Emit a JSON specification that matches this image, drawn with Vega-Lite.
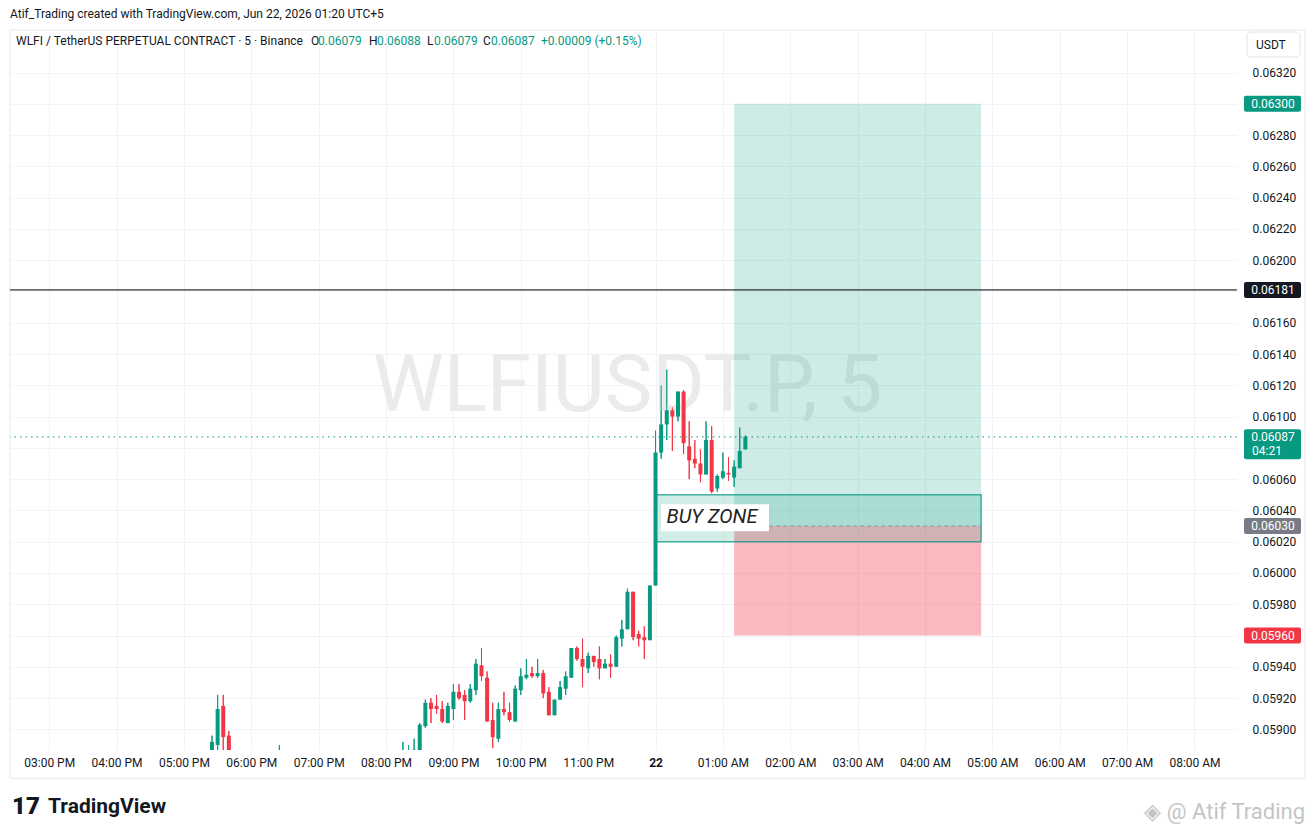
{
  "$schema": "https://vega.github.io/schema/vega-lite/v6.json",
  "width": 1227,
  "height": 720,
  "autosize": {"type": "none"},
  "padding": {"left": 10, "top": 30, "right": 78, "bottom": 88},
  "background": "#ffffff",
  "config": {"view": {"stroke": null}, "text": {"font": "Roboto"}, "axis": {"labelOverlap": false}, "axisY": {"labelOverlap": false, "labelSeparation": 0}},
  "data": {"values": [{}]},
  "datasets": {
    "candles": [
      {"t":"2026-06-21T17:25:00Z","o":0.05883,"h":0.05896,"l":0.05880,"c":0.05892},
      {"t":"2026-06-21T17:30:00Z","o":0.05890,"h":0.05922,"l":0.05885,"c":0.05913},
      {"t":"2026-06-21T17:35:00Z","o":0.05915,"h":0.05922,"l":0.05885,"c":0.05895},
      {"t":"2026-06-21T17:40:00Z","o":0.05896,"h":0.05899,"l":0.05877,"c":0.05880},
      {"t":"2026-06-21T18:25:00Z","o":0.05877,"h":0.05890,"l":0.05874,"c":0.05885},
      {"t":"2026-06-21T20:15:00Z","o":0.05880,"h":0.05892,"l":0.05877,"c":0.05885},
      {"t":"2026-06-21T20:20:00Z","o":0.05882,"h":0.05890,"l":0.05878,"c":0.05886},
      {"t":"2026-06-21T20:25:00Z","o":0.05881,"h":0.05894,"l":0.05878,"c":0.05887},
      {"t":"2026-06-21T20:30:00Z","o":0.05884,"h":0.05904,"l":0.05882,"c":0.05903},
      {"t":"2026-06-21T20:35:00Z","o":0.05902,"h":0.05919,"l":0.05901,"c":0.05917},
      {"t":"2026-06-21T20:40:00Z","o":0.05917,"h":0.05920,"l":0.05904,"c":0.05913},
      {"t":"2026-06-21T20:45:00Z","o":0.05915,"h":0.05922,"l":0.05910,"c":0.05913},
      {"t":"2026-06-21T20:50:00Z","o":0.05913,"h":0.05918,"l":0.05904,"c":0.05905},
      {"t":"2026-06-21T20:55:00Z","o":0.05904,"h":0.05917,"l":0.05904,"c":0.05915},
      {"t":"2026-06-21T21:00:00Z","o":0.05913,"h":0.05929,"l":0.05906,"c":0.05924},
      {"t":"2026-06-21T21:05:00Z","o":0.05924,"h":0.05929,"l":0.05919,"c":0.05920},
      {"t":"2026-06-21T21:10:00Z","o":0.05922,"h":0.05925,"l":0.05906,"c":0.05918},
      {"t":"2026-06-21T21:15:00Z","o":0.05918,"h":0.05929,"l":0.05917,"c":0.05926},
      {"t":"2026-06-21T21:20:00Z","o":0.05925,"h":0.05945,"l":0.05922,"c":0.05942},
      {"t":"2026-06-21T21:25:00Z","o":0.05941,"h":0.05952,"l":0.05931,"c":0.05934},
      {"t":"2026-06-21T21:30:00Z","o":0.05933,"h":0.05937,"l":0.05905,"c":0.05905},
      {"t":"2026-06-21T21:35:00Z","o":0.05906,"h":0.05917,"l":0.05888,"c":0.05895},
      {"t":"2026-06-21T21:40:00Z","o":0.05894,"h":0.05917,"l":0.05892,"c":0.05913},
      {"t":"2026-06-21T21:45:00Z","o":0.05913,"h":0.05924,"l":0.05909,"c":0.05911},
      {"t":"2026-06-21T21:50:00Z","o":0.05911,"h":0.05917,"l":0.05905,"c":0.05906},
      {"t":"2026-06-21T21:55:00Z","o":0.05905,"h":0.05928,"l":0.05905,"c":0.05926},
      {"t":"2026-06-21T22:00:00Z","o":0.05925,"h":0.05939,"l":0.05922,"c":0.05934},
      {"t":"2026-06-21T22:05:00Z","o":0.05933,"h":0.05945,"l":0.05932,"c":0.05935},
      {"t":"2026-06-21T22:10:00Z","o":0.05936,"h":0.05940,"l":0.05933,"c":0.05934},
      {"t":"2026-06-21T22:15:00Z","o":0.05934,"h":0.05945,"l":0.05933,"c":0.05936},
      {"t":"2026-06-21T22:20:00Z","o":0.05936,"h":0.05938,"l":0.05920,"c":0.05923},
      {"t":"2026-06-21T22:25:00Z","o":0.05924,"h":0.05927,"l":0.05909,"c":0.05909},
      {"t":"2026-06-21T22:30:00Z","o":0.05909,"h":0.05919,"l":0.05909,"c":0.05919},
      {"t":"2026-06-21T22:35:00Z","o":0.05919,"h":0.05931,"l":0.05919,"c":0.05927},
      {"t":"2026-06-21T22:40:00Z","o":0.05926,"h":0.05937,"l":0.05922,"c":0.05934},
      {"t":"2026-06-21T22:45:00Z","o":0.05933,"h":0.05952,"l":0.05933,"c":0.05952},
      {"t":"2026-06-21T22:50:00Z","o":0.05952,"h":0.05953,"l":0.05944,"c":0.05945},
      {"t":"2026-06-21T22:55:00Z","o":0.05945,"h":0.05958,"l":0.05927,"c":0.05940},
      {"t":"2026-06-21T23:00:00Z","o":0.05939,"h":0.05949,"l":0.05936,"c":0.05947},
      {"t":"2026-06-21T23:05:00Z","o":0.05947,"h":0.05947,"l":0.05940,"c":0.05943},
      {"t":"2026-06-21T23:10:00Z","o":0.05945,"h":0.05953,"l":0.05932,"c":0.05939},
      {"t":"2026-06-21T23:15:00Z","o":0.05939,"h":0.05945,"l":0.05939,"c":0.05942},
      {"t":"2026-06-21T23:20:00Z","o":0.05942,"h":0.05948,"l":0.05933,"c":0.05940},
      {"t":"2026-06-21T23:25:00Z","o":0.05940,"h":0.05960,"l":0.05940,"c":0.05959},
      {"t":"2026-06-21T23:30:00Z","o":0.05958,"h":0.05970,"l":0.05953,"c":0.05964},
      {"t":"2026-06-21T23:35:00Z","o":0.05964,"h":0.05990,"l":0.05964,"c":0.05988},
      {"t":"2026-06-21T23:40:00Z","o":0.05988,"h":0.05988,"l":0.05957,"c":0.05959},
      {"t":"2026-06-21T23:45:00Z","o":0.05961,"h":0.05963,"l":0.05953,"c":0.05958},
      {"t":"2026-06-21T23:50:00Z","o":0.05959,"h":0.05966,"l":0.05945,"c":0.05957},
      {"t":"2026-06-21T23:55:00Z","o":0.05957,"h":0.05992,"l":0.05957,"c":0.05992},
      {"t":"2026-06-22T00:00:00Z","o":0.05992,"h":0.06091,"l":0.05992,"c":0.06077},
      {"t":"2026-06-22T00:05:00Z","o":0.06077,"h":0.06120,"l":0.06073,"c":0.06095},
      {"t":"2026-06-22T00:10:00Z","o":0.06095,"h":0.06130,"l":0.06085,"c":0.06104},
      {"t":"2026-06-22T00:15:00Z","o":0.06104,"h":0.06106,"l":0.06078,"c":0.06100},
      {"t":"2026-06-22T00:20:00Z","o":0.06100,"h":0.06116,"l":0.06097,"c":0.06116},
      {"t":"2026-06-22T00:25:00Z","o":0.06116,"h":0.06117,"l":0.06076,"c":0.06083},
      {"t":"2026-06-22T00:30:00Z","o":0.06081,"h":0.06097,"l":0.06060,"c":0.06072},
      {"t":"2026-06-22T00:35:00Z","o":0.06073,"h":0.06085,"l":0.06067,"c":0.06070},
      {"t":"2026-06-22T00:40:00Z","o":0.06070,"h":0.06079,"l":0.06058,"c":0.06063},
      {"t":"2026-06-22T00:45:00Z","o":0.06063,"h":0.06097,"l":0.06063,"c":0.06085},
      {"t":"2026-06-22T00:50:00Z","o":0.06085,"h":0.06094,"l":0.06051,"c":0.06052},
      {"t":"2026-06-22T00:55:00Z","o":0.06054,"h":0.06063,"l":0.06052,"c":0.06062},
      {"t":"2026-06-22T01:00:00Z","o":0.06061,"h":0.06077,"l":0.06060,"c":0.06065},
      {"t":"2026-06-22T01:05:00Z","o":0.06064,"h":0.06074,"l":0.06059,"c":0.06063},
      {"t":"2026-06-22T01:10:00Z","o":0.06061,"h":0.06072,"l":0.06055,"c":0.06068},
      {"t":"2026-06-22T01:15:00Z","o":0.06067,"h":0.06093,"l":0.06067,"c":0.06078},
      {"t":"2026-06-22T01:20:00Z","o":0.06079,"h":0.06088,"l":0.06079,"c":0.06087}
    ],
    "pricelabels": [
      {"p": 0.06300, "label": "0.06300", "kind": "target"},
      {"p": 0.06181, "label": "0.06181", "kind": "level"},
      {"p": 0.06030, "label": "0.06030", "kind": "entry"},
      {"p": 0.05960, "label": "0.05960", "kind": "stop"}
    ]
  },
  "layer": [
    {
      "data": {"name": "candles"},
      "mark": {"type": "rule", "clip": true, "strokeWidth": 1},
      "encoding": {
        "x": {"field": "t", "type": "temporal", "title": null,
          "scale": {"type": "utc", "padding": 0, "domain": [{"year":2026,"month":6,"date":21,"hours":14,"minutes":25,"seconds":5,"utc":true}, {"year":2026,"month":6,"date":22,"hours":8,"minutes":37,"seconds":52,"utc":true}]},
          "axis": {"orient": "bottom", "title": null, "grid": true, "gridColor": "#f0f3fa", "gridWidth": 1, "domain": false, "ticks": false, "tickSize": 0, "labelPadding": 7, "labelFontSize": 12, "labelFont": "Roboto", "labelColor": "#131722", "labelBaseline": "top", "labelFlush": false, "labelOverlap": false,
            "labelExpr": "utchours(datum.value) == 0 ? utcFormat(datum.value, '%d') : utcFormat(datum.value, '%I:%M %p')",
            "labelFontWeight": {"condition": {"test": "utchours(datum.value) == 0", "value": "bold"}, "value": "normal"},
            "values": [
              {"year":2026,"month":6,"date":21,"hours":15,"utc":true},
              {"year":2026,"month":6,"date":21,"hours":16,"utc":true},
              {"year":2026,"month":6,"date":21,"hours":17,"utc":true},
              {"year":2026,"month":6,"date":21,"hours":18,"utc":true},
              {"year":2026,"month":6,"date":21,"hours":19,"utc":true},
              {"year":2026,"month":6,"date":21,"hours":20,"utc":true},
              {"year":2026,"month":6,"date":21,"hours":21,"utc":true},
              {"year":2026,"month":6,"date":21,"hours":22,"utc":true},
              {"year":2026,"month":6,"date":21,"hours":23,"utc":true},
              {"year":2026,"month":6,"date":22,"hours":0,"utc":true},
              {"year":2026,"month":6,"date":22,"hours":1,"utc":true},
              {"year":2026,"month":6,"date":22,"hours":2,"utc":true},
              {"year":2026,"month":6,"date":22,"hours":3,"utc":true},
              {"year":2026,"month":6,"date":22,"hours":4,"utc":true},
              {"year":2026,"month":6,"date":22,"hours":5,"utc":true},
              {"year":2026,"month":6,"date":22,"hours":6,"utc":true},
              {"year":2026,"month":6,"date":22,"hours":7,"utc":true},
              {"year":2026,"month":6,"date":22,"hours":8,"utc":true}
            ]}},
        "y": {"field": "l", "type": "quantitative", "title": null,
          "scale": {"domain": [0.058868, 0.063472], "zero": false, "nice": false, "padding": 0},
          "axis": {"orient": "right", "title": null, "grid": true, "gridColor": "#f0f3fa", "gridWidth": 1, "domain": false, "ticks": false, "tickSize": 0, "labelPadding": 15, "labelFontSize": 12, "labelFont": "Roboto", "labelColor": "#131722", "labelFlush": false, "labelOverlap": false, "labelSeparation": 0, "tickCount": 24,
            "labelExpr": "(abs(datum.value - 0.0608) < 0.000001 || abs(datum.value - 0.0618) < 0.000001 || abs(datum.value - 0.0630) < 0.000001 || abs(datum.value - 0.0596) < 0.000001) ? '' : format(datum.value, '.5f')",
            "values": [0.0590, 0.0592, 0.0594, 0.0596, 0.0598, 0.0600, 0.0602, 0.0604, 0.0606, 0.0608, 0.0610, 0.0612, 0.0614, 0.0616, 0.0618, 0.0620, 0.0622, 0.0624, 0.0626, 0.0628, 0.0630, 0.0632]}},
        "y2": {"field": "h"},
        "color": {"condition": {"test": "datum.c >= datum.o", "value": "#089981"}, "value": "#f23645"}
      }
    },
    {
      "mark": {"type": "rect", "fillOpacity": 0, "stroke": "#e6e8ee", "strokeWidth": 1},
      "encoding": {
        "x": {"datum": {"year":2026,"month":6,"date":21,"hours":14,"minutes":25,"seconds":5,"utc":true}, "type": "temporal", "title": null},
        "x2": {"datum": {"year":2026,"month":6,"date":22,"hours":9,"minutes":38,"seconds":26,"utc":true}},
        "y": {"datum": 0.063472, "type": "quantitative", "title": null},
        "y2": {"datum": 0.0586872}
      }
    },
    {
      "mark": {"type": "text", "text": "Atif_Trading created with TradingView.com, Jun 22, 2026 01:20 UTC+5", "fontSize": 12, "color": "#131722", "align": "left", "baseline": "middle"},
      "encoding": {
        "x": {"datum": {"year":2026,"month":6,"date":21,"hours":14,"minutes":25,"seconds":5,"utc":true}, "type": "temporal", "title": null},
        "y": {"datum": 0.0635742, "type": "quantitative", "title": null}
      }
    },
    {
      "mark": {"type": "text", "text": "WLFIUSDT.P, 5", "fontSize": 80, "color": "#ebebeb", "align": "center", "baseline": "middle", "font": "Roboto"},
      "encoding": {
        "x": {"datum": {"year":2026,"month":6,"date":21,"hours":23,"minutes":35,"seconds":2,"utc":true}, "type": "temporal", "title": null},
        "y": {"datum": 0.0611883, "type": "quantitative", "title": null}
      }
    },
    {
      "mark": {"type": "text", "text": "WLFI / TetherUS PERPETUAL CONTRACT · 5 · Binance", "fontSize": 12, "color": "#131722", "align": "left", "baseline": "middle"},
      "encoding": {
        "x": {"datum": {"year":2026,"month":6,"date":21,"hours":14,"minutes":30,"seconds":26,"utc":true}, "type": "temporal", "title": null},
        "y": {"datum": 0.0634015, "type": "quantitative", "title": null}
      }
    },
    {
      "mark": {"type": "text", "text": "O", "fontSize": 12, "color": "#131722", "align": "left", "baseline": "middle"},
      "encoding": {
        "x": {"datum": {"year":2026,"month":6,"date":21,"hours":18,"minutes":53,"seconds":10,"utc":true}, "type": "temporal", "title": null},
        "y": {"datum": 0.0634015, "type": "quantitative", "title": null}
      }
    },
    {
      "mark": {"type": "text", "text": "0.06079", "fontSize": 12, "color": "#089981", "align": "left", "baseline": "middle"},
      "encoding": {
        "x": {"datum": {"year":2026,"month":6,"date":21,"hours":18,"minutes":59,"seconds":24,"utc":true}, "type": "temporal", "title": null},
        "y": {"datum": 0.0634015, "type": "quantitative", "title": null}
      }
    },
    {
      "mark": {"type": "text", "text": "H", "fontSize": 12, "color": "#131722", "align": "left", "baseline": "middle"},
      "encoding": {
        "x": {"datum": {"year":2026,"month":6,"date":21,"hours":19,"minutes":44,"seconds":49,"utc":true}, "type": "temporal", "title": null},
        "y": {"datum": 0.0634015, "type": "quantitative", "title": null}
      }
    },
    {
      "mark": {"type": "text", "text": "0.06088", "fontSize": 12, "color": "#089981", "align": "left", "baseline": "middle"},
      "encoding": {
        "x": {"datum": {"year":2026,"month":6,"date":21,"hours":19,"minutes":51,"seconds":56,"utc":true}, "type": "temporal", "title": null},
        "y": {"datum": 0.0634015, "type": "quantitative", "title": null}
      }
    },
    {
      "mark": {"type": "text", "text": "L", "fontSize": 12, "color": "#131722", "align": "left", "baseline": "middle"},
      "encoding": {
        "x": {"datum": {"year":2026,"month":6,"date":21,"hours":20,"minutes":36,"seconds":28,"utc":true}, "type": "temporal", "title": null},
        "y": {"datum": 0.0634015, "type": "quantitative", "title": null}
      }
    },
    {
      "mark": {"type": "text", "text": "0.06079", "fontSize": 12, "color": "#089981", "align": "left", "baseline": "middle"},
      "encoding": {
        "x": {"datum": {"year":2026,"month":6,"date":21,"hours":20,"minutes":42,"seconds":42,"utc":true}, "type": "temporal", "title": null},
        "y": {"datum": 0.0634015, "type": "quantitative", "title": null}
      }
    },
    {
      "mark": {"type": "text", "text": "C", "fontSize": 12, "color": "#131722", "align": "left", "baseline": "middle"},
      "encoding": {
        "x": {"datum": {"year":2026,"month":6,"date":21,"hours":21,"minutes":26,"seconds":21,"utc":true}, "type": "temporal", "title": null},
        "y": {"datum": 0.0634015, "type": "quantitative", "title": null}
      }
    },
    {
      "mark": {"type": "text", "text": "0.06087", "fontSize": 12, "color": "#089981", "align": "left", "baseline": "middle"},
      "encoding": {
        "x": {"datum": {"year":2026,"month":6,"date":21,"hours":21,"minutes":33,"seconds":28,"utc":true}, "type": "temporal", "title": null},
        "y": {"datum": 0.0634015, "type": "quantitative", "title": null}
      }
    },
    {
      "mark": {"type": "text", "text": "+0.00009 (+0.15%)", "fontSize": 12, "color": "#089981", "align": "left", "baseline": "middle"},
      "encoding": {
        "x": {"datum": {"year":2026,"month":6,"date":21,"hours":22,"minutes":18,"seconds":0,"utc":true}, "type": "temporal", "title": null},
        "y": {"datum": 0.0634015, "type": "quantitative", "title": null}
      }
    },
    {
      "mark": {"type": "rect", "color": "#f23645", "opacity": 0.35},
      "encoding": {
        "x": {"datum": {"year":2026,"month":6,"date":22,"hours":1,"minutes":10,"utc":true}, "type": "temporal", "title": null},
        "x2": {"datum": {"year":2026,"month":6,"date":22,"hours":4,"minutes":50,"utc":true}},
        "y": {"datum": 0.0596, "type": "quantitative", "title": null},
        "y2": {"datum": 0.0603}
      }
    },
    {
      "mark": {"type": "rect", "color": "#089981", "opacity": 0.2},
      "encoding": {
        "x": {"datum": {"year":2026,"month":6,"date":22,"hours":1,"minutes":10,"utc":true}, "type": "temporal", "title": null},
        "x2": {"datum": {"year":2026,"month":6,"date":22,"hours":4,"minutes":50,"utc":true}},
        "y": {"datum": 0.0603, "type": "quantitative", "title": null},
        "y2": {"datum": 0.0630}
      }
    },
    {
      "mark": {"type": "rect", "fill": "#089981", "fillOpacity": 0.18, "stroke": "#089981", "strokeOpacity": 0.75, "strokeWidth": 1.5},
      "encoding": {
        "x": {"datum": {"year":2026,"month":6,"date":22,"hours":0,"minutes":0,"utc":true}, "type": "temporal", "title": null},
        "x2": {"datum": {"year":2026,"month":6,"date":22,"hours":4,"minutes":50,"utc":true}},
        "y": {"datum": 0.0602, "type": "quantitative", "title": null},
        "y2": {"datum": 0.0605}
      }
    },
    {
      "mark": {"type": "rule", "color": "#787b86", "strokeDash": [4, 3], "opacity": 0.6, "strokeWidth": 1},
      "encoding": {
        "x": {"datum": {"year":2026,"month":6,"date":22,"hours":1,"minutes":10,"utc":true}, "type": "temporal", "title": null},
        "x2": {"datum": {"year":2026,"month":6,"date":22,"hours":4,"minutes":50,"utc":true}},
        "y": {"datum": 0.0603, "type": "quantitative", "title": null}
      }
    },
    {
      "mark": {"type": "rule", "color": "#000000", "strokeWidth": 1},
      "encoding": {
        "y": {"datum": 0.06181, "type": "quantitative", "title": null}
      }
    },
    {
      "mark": {"type": "rule", "color": "#089981", "strokeWidth": 1, "strokeDash": [1.5, 4]},
      "encoding": {
        "y": {"datum": 0.06087, "type": "quantitative", "title": null}
      }
    },
    {
      "data": {"name": "candles"},
      "mark": {"type": "rule", "clip": true, "strokeWidth": 1},
      "encoding": {
        "x": {"field": "t", "type": "temporal", "title": null},
        "y": {"field": "l", "type": "quantitative", "title": null},
        "y2": {"field": "h"},
        "color": {"condition": {"test": "datum.c >= datum.o", "value": "#089981"}, "value": "#f23645"}
      }
    },
    {
      "data": {"name": "candles"},
      "mark": {"type": "bar", "clip": true, "size": 4},
      "encoding": {
        "x": {"field": "t", "type": "temporal", "title": null},
        "y": {"field": "o", "type": "quantitative", "title": null},
        "y2": {"field": "c"},
        "color": {"condition": {"test": "datum.c >= datum.o", "value": "#089981"}, "value": "#f23645"}
      }
    },
    {
      "mark": {"type": "rect", "color": "#ffffff"},
      "encoding": {
        "x": {"datum": {"year":2026,"month":6,"date":22,"hours":0,"minutes":4,"seconds":53,"utc":true}, "type": "temporal", "title": null},
        "x2": {"datum": {"year":2026,"month":6,"date":22,"hours":1,"minutes":41,"seconds":3,"utc":true}},
        "y": {"datum": 0.0604399, "type": "quantitative", "title": null},
        "y2": {"datum": 0.0602671}
      }
    },
    {
      "mark": {"type": "text", "text": "BUY ZONE", "fontSize": 20, "fontStyle": "italic", "color": "#222222", "align": "center", "baseline": "middle"},
      "encoding": {
        "x": {"datum": {"year":2026,"month":6,"date":22,"hours":0,"minutes":50,"seconds":18,"utc":true}, "type": "temporal", "title": null},
        "y": {"datum": 0.0603567, "type": "quantitative", "title": null}
      }
    },
    {
      "data": {"name": "pricelabels"},
      "mark": {"type": "tick", "orient": "horizontal", "size": 57, "thickness": 16, "cornerRadius": 2, "opacity": 1},
      "encoding": {
        "x": {"datum": {"year":2026,"month":6,"date":22,"hours":9,"minutes":9,"seconds":29,"utc":true}, "type": "temporal", "title": null},
        "y": {"field": "p", "type": "quantitative", "title": null},
        "color": {"field": "kind", "type": "nominal", "legend": null, "scale": {"domain": ["target", "level", "entry", "stop"], "range": ["#089981", "#131722", "#787b86", "#f23645"]}}
      }
    },
    {
      "data": {"name": "pricelabels"},
      "mark": {"type": "text", "fontSize": 12, "color": "#ffffff", "align": "center", "baseline": "middle"},
      "encoding": {
        "x": {"datum": {"year":2026,"month":6,"date":22,"hours":9,"minutes":9,"seconds":55,"utc":true}, "type": "temporal", "title": null},
        "y": {"field": "p", "type": "quantitative", "title": null},
        "text": {"field": "label"}
      }
    },
    {
      "mark": {"type": "rect", "color": "#089981", "cornerRadius": 2},
      "encoding": {
        "x": {"datum": {"year":2026,"month":6,"date":22,"hours":8,"minutes":44,"seconds":6,"utc":true}, "type": "temporal", "title": null},
        "x2": {"datum": {"year":2026,"month":6,"date":22,"hours":9,"minutes":34,"seconds":52,"utc":true}},
        "y": {"datum": 0.0609196, "type": "quantitative", "title": null},
        "y2": {"datum": 0.0607277}
      }
    },
    {
      "mark": {"type": "text", "text": "0.06087", "fontSize": 12, "color": "#ffffff", "align": "center", "baseline": "middle"},
      "encoding": {
        "x": {"datum": {"year":2026,"month":6,"date":22,"hours":9,"minutes":9,"seconds":55,"utc":true}, "type": "temporal", "title": null},
        "y": {"datum": 0.0608684, "type": "quantitative", "title": null}
      }
    },
    {
      "mark": {"type": "text", "text": "04:21", "fontSize": 12, "color": "#ffffff", "align": "left", "baseline": "middle"},
      "encoding": {
        "x": {"datum": {"year":2026,"month":6,"date":22,"hours":8,"minutes":51,"seconds":13,"utc":true}, "type": "temporal", "title": null},
        "y": {"datum": 0.0607772, "type": "quantitative", "title": null}
      }
    },
    {
      "mark": {"type": "rect", "fill": "#ffffff", "stroke": "#e0e3eb", "strokeWidth": 1, "cornerRadius": 4},
      "encoding": {
        "x": {"datum": {"year":2026,"month":6,"date":22,"hours":8,"minutes":46,"seconds":46,"utc":true}, "type": "temporal", "title": null},
        "x2": {"datum": {"year":2026,"month":6,"date":22,"hours":9,"minutes":33,"seconds":58,"utc":true}},
        "y": {"datum": 0.0634591, "type": "quantitative", "title": null},
        "y2": {"datum": 0.0632992}
      }
    },
    {
      "mark": {"type": "text", "text": "USDT", "fontSize": 12, "color": "#131722", "align": "center", "baseline": "middle"},
      "encoding": {
        "x": {"datum": {"year":2026,"month":6,"date":22,"hours":9,"minutes":8,"seconds":2,"utc":true}, "type": "temporal", "title": null},
        "y": {"datum": 0.0633791, "type": "quantitative", "title": null}
      }
    },
    {
      "mark": {"type": "text", "text": "17", "fontSize": 24, "fontWeight": 900, "color": "#131722", "align": "left", "baseline": "middle"},
      "encoding": {
        "x": {"datum": {"year":2026,"month":6,"date":21,"hours":14,"minutes":26,"seconds":52,"utc":true}, "type": "temporal", "title": null},
        "y": {"datum": 0.0585017, "type": "quantitative", "title": null}
      }
    },
    {
      "mark": {"type": "text", "text": "TradingView", "fontSize": 21, "fontWeight": "bold", "color": "#131722", "align": "left", "baseline": "middle"},
      "encoding": {
        "x": {"datum": {"year":2026,"month":6,"date":21,"hours":14,"minutes":58,"seconds":56,"utc":true}, "type": "temporal", "title": null},
        "y": {"datum": 0.0585017, "type": "quantitative", "title": null}
      }
    },
    {
      "mark": {"type": "text", "text": "◈ @ Atif Trading", "fontSize": 22, "color": "#c4c4c4", "align": "right", "baseline": "middle"},
      "encoding": {
        "x": {"datum": {"year":2026,"month":6,"date":22,"hours":9,"minutes":38,"seconds":26,"utc":true}, "type": "temporal", "title": null},
        "y": {"datum": 0.0584697, "type": "quantitative", "title": null}
      }
    }
  ]
}
